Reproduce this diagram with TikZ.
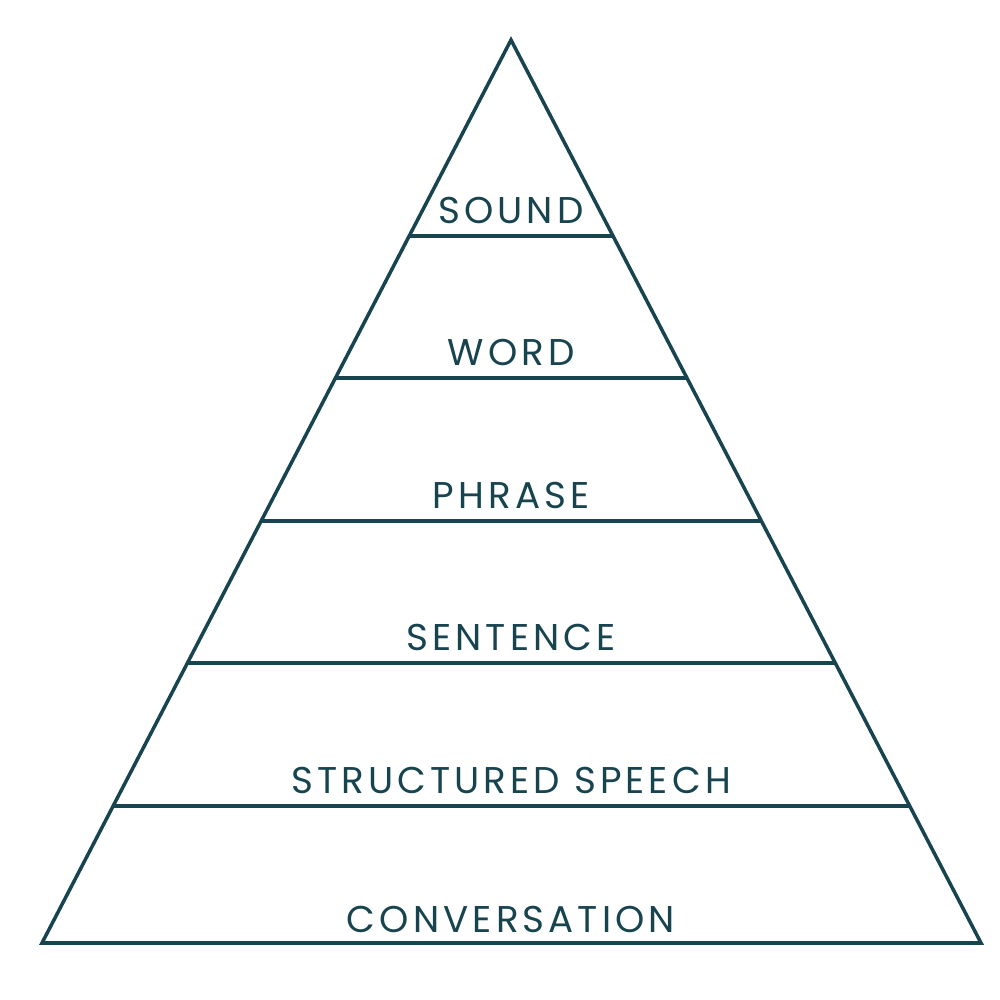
\documentclass[tikz,border=0pt]{standalone}
\usepackage{fontspec}
\setmainfont{Poppins}[LetterSpace=11]
\usetikzlibrary{calc}
\definecolor{pyrteal}{RGB}{23,68,79}

\begin{document}
\begin{tikzpicture}[line width=1pt,
    edge/.style={draw=pyrteal, line join=miter},
    level/.style={text=pyrteal, anchor=base, inner sep=0pt, font=\fontsize{10.6}{12}\selectfont}]
  \useasboundingbox (0,0) rectangle (10,10);
  \coordinate (apex) at (5.11,9.60);
  \coordinate (bl) at (0.42,0.57);
  \coordinate (br) at (9.81,0.57);
  \draw[edge] (apex) -- (br) -- (bl) -- cycle;

  % dividing lines between the levels
  \foreach \t/\n in {0.2171/1, 0.3743/2, 0.5327/3, 0.6899/4, 0.8483/5} {
    \coordinate (l\n) at ($(apex)!\t!(bl)$);
    \coordinate (r\n) at ($(apex)!\t!(br)$);
    \draw[edge] (l\n) -- (r\n);
  }

  \node[level] (sound) at (5.11,7.76) {SOUND};
  \node[level] (word) at (5.11,6.34) {WORD};
  \node[level] (phrase) at (5.11,4.91) {PHRASE};
  \node[level] (sentence) at (5.11,3.49) {SENTENCE};
  \node[level] (speech) at (5.11,2.06) {STRUCTURED SPEECH};
  \node[level] (conv) at (5.11,0.67) {CONVERSATION};
\end{tikzpicture}
\end{document}
